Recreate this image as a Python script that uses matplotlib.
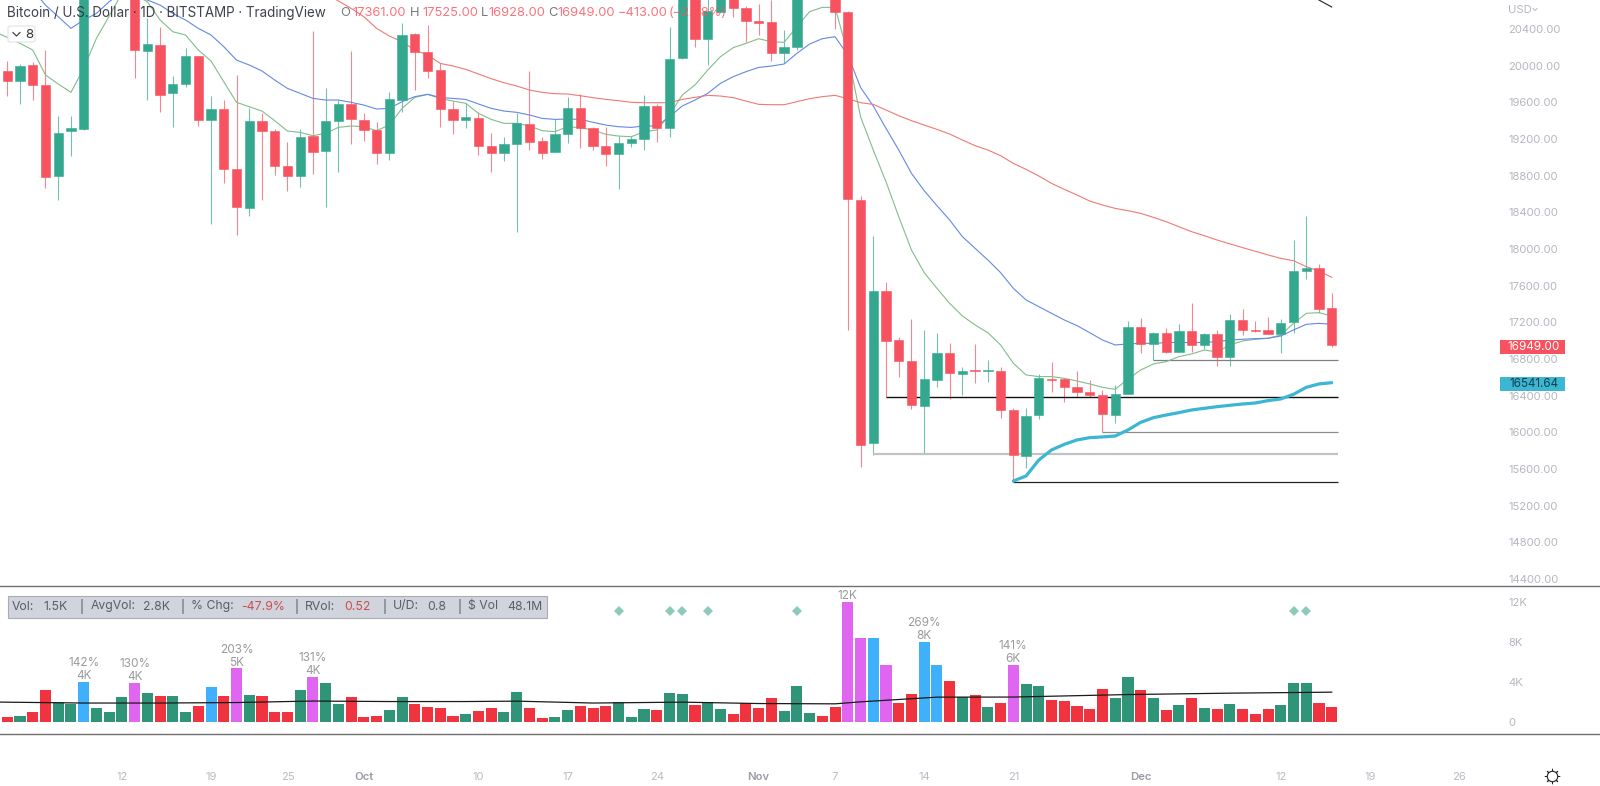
import matplotlib
matplotlib.use("Agg")
import matplotlib.pyplot as plt
import numpy as np
from matplotlib.lines import Line2D
from matplotlib.patches import Rectangle, FancyBboxPatch

plt.rcParams['font.family'] = ['Inter', 'DejaVu Sans']

# day 0 = Sep 12, last candle (95) = Dec 16
days = np.arange(-9, 96)

opens = [19942, 19832, 20007, 19785, 18796, 19291, 19309, 20850, 21100, 21250,
         21400, 20160, 20221, 19698, 19796, 20105, 19411, 19527, 18869, 18447,
         19400, 19287, 18909, 18800, 19232, 19072, 19400, 19585, 19407, 19294,
         19051, 19625, 20341, 20152, 19952, 19527, 19411, 19429, 19123, 19051,
         19149, 19360, 19178, 19062, 19258, 19534, 19323, 19120, 19033, 19160,
         19200, 19563, 19323, 20087, 21000, 20287, 20589, 20900, 20625, 20491,
         20472, 20141, 20200, 20750, 21000, 20800, 20581, 18535, 15888, 17542,
         17007, 16778, 16284, 16571, 16866, 16640, 16677, 16669, 16673, 16240,
         15746, 16189, 16586, 16578, 16498, 16440, 16411, 16189, 16422, 17153,
         16960, 17084, 16880, 17106, 16953, 17077, 16826, 17226, 17117, 17117,
         17077, 17200, 17760, 17793, 17361]
highs = [20051, 20014, 20043, 20171, 19451, 19451, 21250, 21300, 21400, 21600,
         21650, 20516, 20425, 19887, 20189, 20105, 19669, 19625, 19898, 19534,
         19480, 19305, 19171, 19305, 20378, 19752, 19625, 20163, 19480, 19382,
         19709, 20461, 20352, 20443, 20025, 19614, 19589, 19498, 19262, 19218,
         19480, 19945, 19225, 19414, 19662, 19691, 19334, 19334, 19232, 19232,
         19680, 19578, 20418, 21200, 21100, 20800, 20950, 21000, 20650, 20672,
         20716, 20389, 21100, 21000, 21100, 20900, 20600, 18582, 18142, 17637,
         17037, 17233, 17117, 17087, 16971, 16709, 16964, 16789, 16717, 16262,
         16262, 16637, 16771, 16597, 16673, 16571, 16462, 16517, 17215, 17244,
         17091, 17135, 17182, 17407, 17080, 17117, 17291, 17342, 17215, 17255,
         17233, 18098, 18360, 17836, 17525]
lows = [19669, 19582, 19625, 18662, 18534, 19018, 19298, 20780, 21000, 21100,
        19862, 19625, 19498, 19327, 19763, 19342, 18273, 18716, 18153, 18364,
        18534, 18807, 18636, 18680, 18818, 18454, 18843, 19145, 19178, 18927,
        18971, 19498, 19734, 19862, 19334, 19254, 19323, 19022, 18843, 18963,
        18189, 19080, 18985, 19062, 19160, 19098, 19080, 18909, 18654, 19116,
        19080, 19163, 19225, 20069, 20207, 20007, 20571, 20527, 20261, 20334,
        20051, 20025, 20171, 20730, 20760, 20400, 17117, 15626, 15753, 16382,
        16600, 16251, 15764, 16498, 16360, 16408, 16535, 16546, 16153, 15480,
        15608, 16142, 16444, 16335, 16382, 16389, 16000, 16098, 16422, 16862,
        16786, 16862, 16873, 16873, 16906, 16728, 16728, 17062, 17098, 17073,
        16869, 17087, 17669, 17298, 16928]
closes = [19832, 20000, 19785, 18782, 19265, 19316, 21000, 21150, 21300, 21500,
          20171, 20236, 19680, 19800, 20105, 19411, 19527, 18869, 18454, 19392,
          19283, 18909, 18800, 19222, 19062, 19400, 19585, 19422, 19302, 19043,
          19636, 20338, 20152, 19941, 19527, 19411, 19440, 19123, 19051, 19149,
          19371, 19171, 19051, 19254, 19534, 19323, 19120, 19033, 19160, 19196,
          19563, 19323, 20076, 21050, 20287, 20600, 20800, 20625, 20491, 20469,
          20141, 20203, 21000, 20950, 20800, 20589, 18542, 15862, 17542, 17000,
          16778, 16295, 16578, 16866, 16644, 16673, 16666, 16684, 16244, 15753,
          16178, 16593, 16575, 16498, 16440, 16407, 16200, 16422, 17153, 16960,
          17084, 16873, 17106, 16953, 17077, 16826, 17226, 17117, 17106, 17077,
          17193, 17764, 17793, 17346, 16949]

# the averages start one bar earlier, just off the left edge
ma_days = np.arange(-10, 96)
ma_fast = [20370, 20309, 20243, 20171, 19898, 19800, 19709, 19971, 20298, 20541, 20790,
           20770, 20698, 20498, 20370, 20334, 20171, 20051, 19825, 19600, 19552,
           19505, 19400, 19287, 19272, 19236, 19262, 19327, 19342, 19334, 19291,
           19352, 19534, 19654, 19687, 19643, 19614, 19589, 19480, 19414, 19371,
           19371, 19342, 19291, 19280, 19334, 19323, 19298, 19251, 19232, 19225,
           19280, 19298, 19462, 19680, 19789, 19952, 20098, 20196, 20243, 20294,
           20261, 20254, 20425, 20589, 20636, 20636, 20134, 19443, 19080, 18734,
           18353, 17989, 17742, 17571, 17407, 17269, 17171, 17087, 16953, 16753,
           16626, 16608, 16608, 16589, 16560, 16528, 16491, 16469, 16582, 16680,
           16746, 16771, 16826, 16855, 16898, 16877, 16953, 16997, 17015, 17026,
           17062, 17189, 17298, 17306, 17269]
ma_mid = [21050, 21000, 20940, 20825, 20661, 20534, 20407, 20498, 20570, 20698, 20800,
          20790, 20716, 20661, 20570, 20498, 20407, 20334, 20207, 20061, 20007,
          19942, 19843, 19752, 19698, 19643, 19625, 19625, 19600, 19570, 19527,
          19534, 19607, 19662, 19687, 19654, 19643, 19632, 19582, 19534, 19505,
          19491, 19462, 19425, 19414, 19418, 19414, 19382, 19352, 19334, 19327,
          19342, 19342, 19443, 19560, 19625, 19698, 19807, 19880, 19934, 19981,
          19996, 20018, 20134, 20236, 20294, 20316, 20116, 19763, 19560, 19316,
          19080, 18825, 18636, 18473, 18316, 18135, 18007, 17880, 17742, 17571,
          17444, 17371, 17298, 17226, 17164, 17087, 17007, 16953, 16964, 16971,
          16971, 16978, 16982, 16978, 16982, 16989, 17007, 17015, 17022, 17026,
          17051, 17117, 17178, 17189, 17178]
# slow average only enters the window around Sep 28
ma_slow_days = np.arange(16, 96)
ma_slow = [20790, 20705, 20625, 20534, 20407, 20323, 20261, 20171, 20116, 20025,
           19996, 19960, 19909, 19858, 19814, 19778, 19734, 19709, 19694, 19691,
           19672, 19651, 19632, 19618, 19600, 19596, 19596, 19596, 19632, 19654,
           19676, 19669, 19651, 19614, 19578, 19574, 19574, 19607, 19640, 19662,
           19676, 19640, 19596, 19578, 19516, 19454, 19400, 19352, 19305, 19254,
           19189, 19127, 19080, 19018, 18934, 18869, 18796, 18716, 18651, 18589,
           18523, 18480, 18443, 18418, 18389, 18345, 18298, 18243, 18189, 18145,
           18098, 18056, 18015, 17975, 17935, 17898, 17873, 17807, 17760, 17691]
# anchored vwap from the Nov 21 low
vwap_days = np.arange(70, 96)
vwap = [15469, 15524, 15698, 15808, 15869, 15917, 15942, 15950, 15960, 16026,
        16109, 16160, 16189, 16215, 16244, 16262, 16280, 16295, 16309, 16320,
        16346, 16364, 16415, 16491, 16528, 16541.64]
# long average just touching the top right corner
ma_long_days = [93, 94, 95]
ma_long = [20800, 20716, 20640]

# horizontal rays: level, first day
ray_levels = [16786, 16382, 16000, 15764, 15462]
ray_starts = [81, 60, 77, 59, 70]
ray_end = 95.5

# volume in thousands
volumes = [0.50, 0.60, 1.00, 3.20, 2.00, 1.77, 4.00, 1.37, 0.94, 2.50,
           3.90, 2.87, 2.60, 2.60, 1.00, 1.60, 3.50, 2.60, 5.34, 2.70,
           2.60, 1.00, 1.00, 3.20, 4.48, 3.84, 1.80, 2.44, 0.50, 0.60,
           1.20, 2.50, 1.80, 1.47, 1.37, 0.57, 0.73, 1.10, 1.37, 0.94,
           2.97, 1.37, 0.40, 0.50, 1.20, 1.54, 1.37, 1.54, 1.94, 0.50,
           1.30, 1.20, 2.87, 2.80, 1.70, 1.94, 1.30, 0.73, 1.90, 1.37,
           2.37, 1.10, 3.60, 0.84, 0.57, 1.47, 12.0, 8.38, 8.38, 5.70,
           1.90, 2.80, 8.00, 5.70, 4.10, 2.50, 2.70, 1.47, 1.90, 5.70,
           3.74, 3.57, 2.17, 2.07, 1.54, 1.30, 3.30, 2.34, 4.48, 3.20,
           2.34, 1.20, 1.64, 2.34, 1.40, 1.30, 1.80, 1.30, 0.73, 1.30,
           1.70, 3.84, 3.84, 1.90, 1.50]
blue_days = [-3, 7, 59, 63, 64]
purple_days = [1, 9, 15, 57, 58, 60, 70]
avg_days = [-10, -3, 3, 9, 15, 21, 27, 31, 37, 44, 50, 56, 58, 64, 70, 79, 87, 95]
avg_vol = [1.95, 1.85, 1.85, 1.90, 2.05, 2.00, 2.00, 2.04, 1.85, 1.94, 1.80, 1.77,
           1.97, 2.44, 2.45, 2.70, 2.84, 2.94]
label_days = [-3, 1, 9, 15, 57, 63, 70]
label_pct = ["142%", "130%", "203%", "131%", "308%", "269%", "141%"]
label_vol = ["4K", "4K", "5K", "4K", "12K", "8K", "6K"]
diamond_days = [39, 43, 44, 46, 53, 92, 93]
diamond_level = 11.04

price_ticks = np.arange(14400, 20401, 400)
vol_ticks = [0, 4, 8, 12]
vol_tick_labels = ["0", "4K", "8K", "12K"]
time_tick_days = [0, 7, 13, 19, 28, 35, 42, 50, 56, 63, 70, 80, 91, 98, 105]
time_tick_labels = ["12", "19", "25", "Oct", "10", "17", "24", "Nov", "7", "14", "21",
                    "Dec", "12", "19", "26"]

#---------------------------------------------------------------------------------------------------

W, H = 1600, 786
RED = '#f7525f'
GREEN = '#34a88f'
AXIS_GREY = '#b4b7c0'
SMALL = 8.1


def fx(x):
    return x / W


def fy(y):
    return 1 - y / H


fig = plt.figure(figsize=(W / 100, H / 100), dpi=100, facecolor='white')

# pixel layout of the panes
pane_right = 1505
ax = fig.add_axes([0, fy(586), fx(pane_right), 586 / H])
vax = fig.add_axes([0, fy(734), fx(pane_right), 148 / H])

x_left = -121.9 / 12.735
x_right = (pane_right - 121.9) / 12.735
ax.set_xlim(x_left, x_right)
vax.set_xlim(x_left, x_right)
ax.set_ylim(14400 - 7 * 10.909, 20400 + 29 * 10.909)
vax.set_ylim(-12.5 / 9.98, 135.5 / 9.98)

# candles
for d, o, h, l, c in zip(days, opens, highs, lows, closes):
    col = GREEN if c >= o else RED
    ax.plot([d, d], [l, h], color=col, lw=0.8, alpha=0.7, zorder=2, solid_capstyle='butt')
    ax.add_patch(Rectangle((d - 0.365, min(o, c)), 0.73, max(abs(c - o), 12), facecolor=col,
                           edgecolor=col, lw=0.4, zorder=3))

# moving averages
ax.plot(ma_days, ma_fast, color='#82bd8c', lw=0.8, zorder=2.5)
ax.plot(ma_days, ma_mid, color='#6488e4', lw=0.8, zorder=2.5)
ax.plot(ma_slow_days, ma_slow, color='#ee7a74', lw=0.8, zorder=2.5)
ax.plot(ma_long_days, ma_long, color='#222222', lw=0.8, zorder=2.5)
ax.plot(vwap_days, vwap, color='#3cb6d3', lw=2.3, zorder=4, solid_capstyle='round')

# rays
ray_colors = ['#808080', '#111111', '#8c8c8c', '#c2c2c2', '#222222']
ray_widths = [0.9, 1.0, 0.9, 1.6, 0.9]
for level, start, col, lw in zip(ray_levels, ray_starts, ray_colors, ray_widths):
    ax.plot([start, ray_end], [level, level], color=col, lw=lw, zorder=2.2, solid_capstyle='butt')

ax.yaxis.tick_right()
ax.set_yticks(price_ticks)
ax.set_yticklabels(['%.2f' % p for p in price_ticks])
ax.tick_params(axis='y', length=0, pad=2.2, labelsize=SMALL, labelcolor=AXIS_GREY)
ax.set_xticks([])

# volume bars
bar_colors = []
for d, o, c in zip(days, opens, closes):
    if d in blue_days:
        bar_colors.append('#41b0fb')
    elif d in purple_days:
        bar_colors.append('#e066f2')
    elif c >= o:
        bar_colors.append('#2f9478')
    else:
        bar_colors.append('#ef333f')
vax.bar(days, volumes, width=0.87, color=bar_colors, zorder=2)
vax.plot(avg_days, avg_vol, color='#1a1a1a', lw=0.9, zorder=3)
vax.plot(diamond_days, [diamond_level] * len(diamond_days), linestyle='none', marker='D',
         ms=4.6, color='#8dcabb', mew=0, zorder=3)

top_by_day = dict(zip(days, volumes))
for d, pct, vol in zip(label_days, label_pct, label_vol):
    t = vax.annotate(pct + "\n" + vol, (d, top_by_day[d]), xytext=(0, -0.5), textcoords='offset points',
                     ha='center', va='bottom', fontsize=8.5, color='#9a9a9f', linespacing=1.12,
                     zorder=4)
    t.set_clip_box(vax.bbox)
    t.set_clip_on(True)

vax.yaxis.tick_right()
vax.set_yticks(vol_ticks)
vax.set_yticklabels(vol_tick_labels)
vax.tick_params(axis='y', length=0, pad=2.2, labelsize=SMALL, labelcolor=AXIS_GREY)
vax.set_xticks(time_tick_days)
vax.set_xticklabels(time_tick_labels)
vax.tick_params(axis='x', length=0, pad=27, labelsize=SMALL, labelcolor='#b9bbc3')
for lab in vax.get_xticklabels():
    if lab.get_text() in ('Oct', 'Nov', 'Dec'):
        lab.set_fontweight('semibold')
        lab.set_color('#9a9ca5')

for a in (ax, vax):
    for s in a.spines.values():
        s.set_visible(False)

# pane separators run the full width, through the price scale
for y in (586, 734):
    fig.add_artist(Line2D([0, 1], [fy(y), fy(y)], color='#707070', lw=1.0, zorder=1))

# header
fig.text(fx(7), fy(13), "Bitcoin / U.S. Dollar · 1D · BITSTAMP · TradingView", fontsize=9.7,
         color='#2a2e39', va='center', alpha=0.9)
header = [("O", 340, '#555963'), ("17361.00", 352, RED), ("H", 410, '#555963'), ("17525.00", 422, RED),
          ("L", 481, '#555963'), ("16928.00", 488, RED), ("C", 548, '#555963'), ("16949.00", 557, RED),
          ("−413.00", 618, RED), ("(−2.38%)", 669, RED)]
for txt, x, col in header:
    fig.text(fx(x), fy(13.5), txt, fontsize=9.3, color=col, va='center', alpha=0.8)

# collapsed indicators button
fig.add_artist(FancyBboxPatch((fx(8), fy(42)), 27 / W, 16 / H, boxstyle='round,pad=0,rounding_size=0.002',
                              transform=fig.transFigure, facecolor='white', edgecolor='#e0e3eb',
                              lw=0.8, zorder=5))
fig.add_artist(Line2D([fx(13), fx(16.5), fx(20)], [fy(32.5), fy(36), fy(32.5)], color='#333333', lw=0.8, zorder=6))
fig.text(fx(25), fy(35), "8", fontsize=9.5, color='#333333', va='center', zorder=6)

# currency label
fig.text(fx(1508), fy(10), "USD", fontsize=SMALL, color=AXIS_GREY, va='center')
fig.add_artist(Line2D([fx(1533), fx(1535), fx(1537)], [fy(8.5), fy(10.5), fy(8.5)], color=AXIS_GREY, lw=0.7))

# last price and vwap tags
fig.add_artist(Rectangle((fx(1499.5), fy(354)), 65.5 / W, 14 / H, transform=fig.transFigure,
                         facecolor=RED, edgecolor='none', zorder=5))
fig.text(fx(1534), fy(347), "16949.00", fontsize=8.4, color='white', ha='center', va='center', zorder=6)
fig.add_artist(Rectangle((fx(1499.5), fy(391)), 65.5 / W, 14 / H, transform=fig.transFigure,
                         facecolor='#3cb6d3', edgecolor='none', zorder=5))
fig.text(fx(1534), fy(384), "16541.64", fontsize=8.4, color='#0e3f4d', ha='center', va='center', zorder=6)

# stats strip over the volume pane
fig.add_artist(Rectangle((fx(7.5), fy(617.5)), 539 / W, 22 / H, transform=fig.transFigure,
                         facecolor='#d1d4dc', edgecolor='#a9acb3', lw=0.8, zorder=5))
strip_grey = '#5b5e68'
strip_red = '#c8504f'
strip = [("Vol:", 12, strip_grey), ("1.5K", 43.5, strip_grey), ("|", 79.5, strip_grey),
         ("AvgVol:", 90.5, strip_grey), ("2.8K", 143, strip_grey), ("|", 180.5, strip_grey),
         ("% Chg:", 191, strip_grey), ("-47.9%", 241.5, strip_red), ("|", 294.5, strip_grey),
         ("RVol:", 305, strip_grey), ("0.52", 344.5, strip_red), ("|", 382.5, strip_grey),
         ("U/D:", 393, strip_grey), ("0.8", 427.5, strip_grey), ("|", 457.5, strip_grey),
         ("$ Vol", 468.5, strip_grey), ("48.1M", 507, strip_grey)]
for txt, x, col in strip:
    fig.text(fx(x), fy(606.5), txt, fontsize=8.8, color=col, va='center', zorder=6)

# settings gear in the corner
fig.add_artist(Line2D([fx(1552)], [fy(776)], marker=(8, 2, 0), ms=11, mec='#222222', mew=0.7,
                      linestyle='none', zorder=5))
fig.add_artist(Line2D([fx(1552)], [fy(776)], marker='o', ms=7.5, mfc='white', mec='#222222', mew=0.8,
                      linestyle='none', zorder=6))

fig.savefig('out.png', dpi=100, facecolor='white')
